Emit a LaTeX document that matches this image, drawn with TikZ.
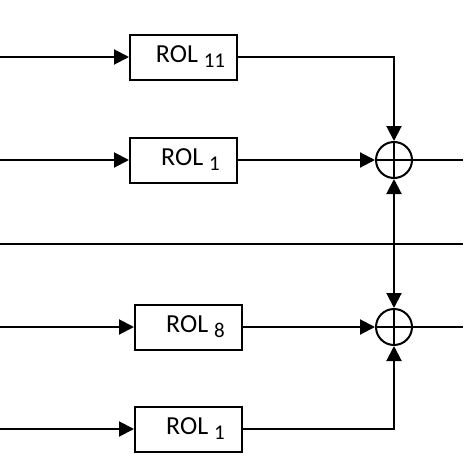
\documentclass[tikz,border=0pt]{standalone}
\usepackage{fontspec}
\setmainfont{Carlito}
\usetikzlibrary{arrows.meta}

\newcommand{\rolidx}[1]{\raisebox{-5pt}{\fontsize{21}{21}\selectfont #1}}

\tikzset{
  rolbox/.style={draw=black, line width=2pt, minimum width=107pt, minimum height=45pt,
    inner sep=0pt, font=\fontsize{26}{30}\selectfont,
    execute at begin node={\hspace*{14pt}}},
  sumnode/.style={draw=black, circle, line width=2pt, minimum size=36pt, inner sep=0pt},
  flow/.style={black, line width=2pt, -{Triangle[length=15pt, width=15pt]}},
  wire/.style={black, line width=2pt}
}

\begin{document}
\begin{tikzpicture}[x=1pt, y=-1pt]
    \useasboundingbox (0,0) rectangle (463,463);

    \node[rolbox] (rolA) at (183.5, 57) {ROL \rolidx{11}};
    \node[rolbox] (rolB) at (183.5, 160) {ROL \rolidx{1}};
    \node[rolbox] (rolC) at (188.5, 327) {ROL \rolidx{8}};
    \node[rolbox] (rolD) at (188.5, 429) {ROL \rolidx{1}};

    \node[sumnode] (sumA) at (394, 160) {};
    \node[sumnode] (sumB) at (394, 327) {};
    % plus signs
    \draw[wire] (sumA.north) -- (sumA.south);
    \draw[wire] (sumA.west) -- (sumA.east);
    \draw[wire] (sumB.north) -- (sumB.south);
    \draw[wire] (sumB.west) -- (sumB.east);

    \coordinate (inA) at (0, 57);
    \coordinate (inB) at (0, 160);
    \coordinate (inC) at (0, 327);
    \coordinate (inD) at (0, 429);
    \coordinate (outA) at (463, 160);
    \coordinate (outB) at (463, 327);
    \coordinate (busL) at (0, 244);
    \coordinate (busR) at (463, 244);
    \coordinate (tap) at (394, 244);

    \draw[flow] (inA) -- (rolA.west);
    \draw[flow] (inB) -- (rolB.west);
    \draw[flow] (inC) -- (rolC.west);
    \draw[flow] (inD) -- (rolD.west);

    \draw[flow] (rolA.east) -| (sumA.north);
    \draw[flow] (rolB.east) -- (sumA.west);
    \draw[flow] (rolC.east) -- (sumB.west);
    \draw[flow] (rolD.east) -| (sumB.south);

    \draw[wire] (busL) -- (busR);
    \draw[flow] (tap) -- (sumA.south);
    \draw[flow] (tap) -- (sumB.north);

    \draw[wire] (sumA.east) -- (outA);
    \draw[wire] (sumB.east) -- (outB);
\end{tikzpicture}
\end{document}
